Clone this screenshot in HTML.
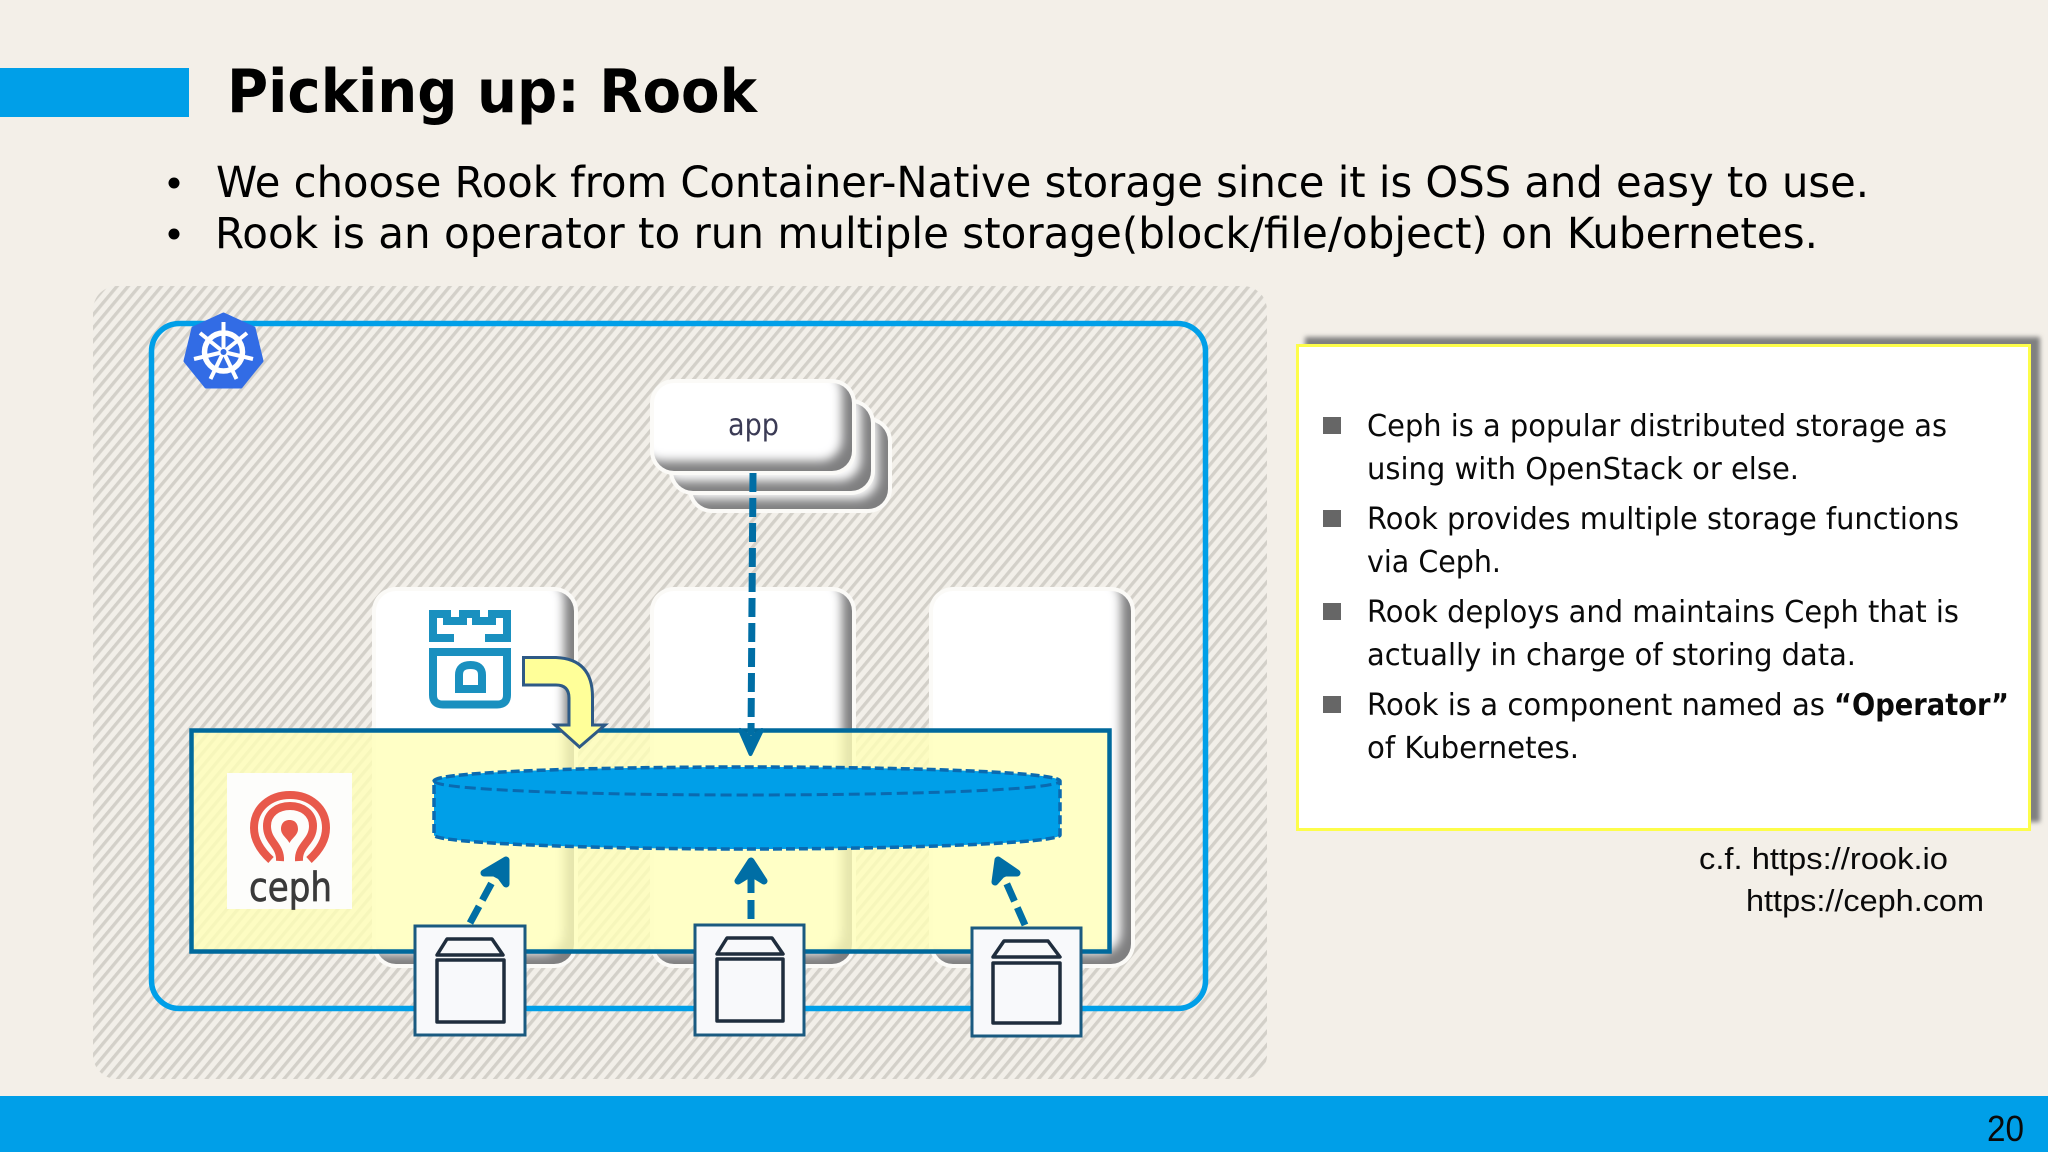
<!DOCTYPE html>
<html><head><meta charset="utf-8"><style>
html,body{margin:0;padding:0;width:2048px;height:1152px;overflow:hidden;background:#f3efe8}
svg{position:absolute;left:0;top:0}
.b{position:absolute;background:#fff;border-radius:20px;box-shadow:0 0 0 4px #fbfaf7,inset -12px -12px 10px -2px #7f7f80}
</style></head><body>
<svg width="2048" height="1152" viewBox="0 0 2048 1152" font-family="'DejaVu Sans',sans-serif">
<defs>
<pattern id="h" width="8.5" height="8.5" patternUnits="userSpaceOnUse" patternTransform="rotate(40)"><rect width="8.5" height="8.5" fill="#f2efe9"/><rect width="3.3" height="8.5" fill="#d3d0c9"/></pattern>
<filter id="bl" x="-5%" y="-5%" width="110%" height="110%"><feGaussianBlur stdDeviation="2.5"/></filter>
</defs>
<rect x="0" y="68" width="189" height="49" fill="#009fe8"/>
<text x="227" y="112" font-size="60" font-weight="bold" textLength="530" lengthAdjust="spacingAndGlyphs">Picking up: Rook</text>
<circle cx="174" cy="183" r="5.5"/><circle cx="174" cy="234" r="5.5"/>
<text x="216" y="197" font-size="43" textLength="1653" lengthAdjust="spacingAndGlyphs">We choose Rook from Container-Native storage since it is OSS and easy to use.</text>
<text x="215" y="248" font-size="43" textLength="1603" lengthAdjust="spacingAndGlyphs">Rook is an operator to run multiple storage(block/file/object) on Kubernetes.</text>
<rect x="93" y="286" width="1174" height="793" rx="24" fill="url(#h)"/>
<rect x="151.5" y="323.5" width="1054" height="685" rx="28" fill="none" stroke="#009fe8" stroke-width="5.5"/>
<rect x="1305" y="337" width="735" height="485" fill="#808080" filter="url(#bl)"/>
<rect x="1297.5" y="345.5" width="732" height="484" fill="#fff" stroke="#fdfd4a" stroke-width="3"/>
<g fill="#666"><rect x="1323" y="417" width="18" height="17"/><rect x="1323" y="510" width="18" height="17"/><rect x="1323" y="603" width="18" height="17"/><rect x="1323" y="696" width="18" height="17"/></g>
<g font-size="30" fill="#0a0a0a">
<text x="1367" y="436" textLength="580" lengthAdjust="spacingAndGlyphs">Ceph is a popular distributed storage as</text>
<text x="1367" y="479" textLength="432" lengthAdjust="spacingAndGlyphs">using with OpenStack or else.</text>
<text x="1367" y="529" textLength="592" lengthAdjust="spacingAndGlyphs">Rook provides multiple storage functions</text>
<text x="1367" y="572" textLength="134" lengthAdjust="spacingAndGlyphs">via Ceph.</text>
<text x="1367" y="622" textLength="592" lengthAdjust="spacingAndGlyphs">Rook deploys and maintains Ceph that is</text>
<text x="1367" y="665" textLength="489" lengthAdjust="spacingAndGlyphs">actually in charge of storing data.</text>
<text x="1367" y="715" textLength="458" lengthAdjust="spacingAndGlyphs">Rook is a component named as</text>
<text x="1834" y="715" font-weight="bold" textLength="175" lengthAdjust="spacingAndGlyphs">“Operator”</text>
<text x="1367" y="758" textLength="212" lengthAdjust="spacingAndGlyphs">of Kubernetes.</text>
</g>
<g font-family="'Liberation Sans',sans-serif" font-size="31" fill="#0a0a0a">
<text x="1699" y="869" textLength="249" lengthAdjust="spacingAndGlyphs">c.f. https://rook.io</text>
<text x="1746" y="911" textLength="238" lengthAdjust="spacingAndGlyphs">https://ceph.com</text>
</g>
<rect x="0" y="1096" width="2048" height="56" fill="#009fe8"/>
<text x="1987" y="1141" font-family="'Liberation Sans',sans-serif" font-size="36" fill="#0a0a0a" textLength="37" lengthAdjust="spacingAndGlyphs">20</text>
</svg>

<div class="b" style="left:692px;top:421px;width:196px;height:88px"></div>
<div class="b" style="left:673px;top:403px;width:198px;height:88px"></div>
<div class="b" style="left:654px;top:383px;width:198px;height:88px"></div>
<div class="b" style="left:376px;top:591px;width:198px;height:373px"></div>
<div class="b" style="left:654px;top:591px;width:198px;height:373px"></div>
<div class="b" style="left:933px;top:591px;width:198px;height:373px"></div>

<svg width="2048" height="1152" viewBox="0 0 2048 1152" font-family="'DejaVu Sans',sans-serif">
<text x="728" y="435" font-size="30" fill="#3b3b55" textLength="51" lengthAdjust="spacingAndGlyphs">app</text>
<!-- kubernetes -->
<polygon points="223.5,314 254,328 262,361 241,387 206,387 185,361 193,328" fill="#326ce5" stroke="#326ce5" stroke-width="3" stroke-linejoin="round"/>
<g stroke="#fff" fill="none">
<circle cx="223.5" cy="352" r="19" stroke-width="5.5"/>
<g stroke-width="4">
<line x1="223.5" y1="352" x2="223.5" y2="322"/>
<line x1="223.5" y1="352" x2="247" y2="333"/>
<line x1="223.5" y1="352" x2="253" y2="359"/>
<line x1="223.5" y1="352" x2="236.5" y2="379"/>
<line x1="223.5" y1="352" x2="210.5" y2="379"/>
<line x1="223.5" y1="352" x2="194" y2="359"/>
<line x1="223.5" y1="352" x2="200" y2="333"/>
</g></g>
<circle cx="223.5" cy="352" r="3" fill="#326ce5"/>
<!-- rook -->
<g fill="none" stroke="#1a90bf" stroke-width="8">
<path d="M454,638H433V614H447V621H463V614H476V621H492V614H507V638H485"/>
<path d="M433,652H507V695Q507,704.5 497,704.5H443Q433,704.5 433,695Z"/>
<path d="M459,689V675Q459,665 470.5,665Q482,665 482,675V689Z"/>
</g>
<!-- yellow region -->
<rect x="191.5" y="730.5" width="918" height="221" fill="#ffffb8" fill-opacity=".8" stroke="#00699c" stroke-width="4.5"/>
<!-- bent arrow -->
<path d="M523.5,657.5H556Q592.5,659 592.5,697V725H605L579.5,747L555,725H569V698Q569,685 556,685H523.5Z" fill="#ffff99" stroke="#2e5a86" stroke-width="3" stroke-linejoin="miter"/>
<!-- ceph -->
<rect x="227" y="773" width="125" height="136" fill="#fdfdfb"/>
<g fill="none" stroke="#e8594b">
<path d="M271,860C259,849 254,838 254,828C254,808 270,795 290,795C310,795 326,808 326,828C326,838 321,849 309,860" stroke-width="8"/>
<path d="M280,861C281,845 267,842 267,826C267,813 278,806 290,806C302,806 313,813 313,826C313,842 298,845 299,861" stroke-width="8"/>
<path d="M289.5,820C296,820 298,825 298,829C298,835 292,838 289.5,843C287,838 281,835 281,829C281,825 283,820 289.5,820Z" fill="#e8594b" stroke="none"/>
</g>
<text x="249" y="901" font-family="'DejaVu Sans',sans-serif" font-size="40" fill="#3a3a3a" stroke="#3a3a3a" stroke-width=".7" textLength="83" lengthAdjust="spacingAndGlyphs">ceph</text>
<!-- cylinder -->
<path d="M434,781C434,772 590,767 747,767C904,767 1060,772 1060,781V835C1060,843 904,849 747,849C590,849 434,843 434,835Z" fill="#009fe8" stroke="#0a6ab0" stroke-width="3.5" stroke-dasharray="9 4"/>
<path d="M434,781C434,790 590,795 747,795C904,795 1060,790 1060,781" fill="none" stroke="#0a6ab0" stroke-width="3" stroke-dasharray="11 5"/>
<!-- connectors -->
<g fill="none" stroke="#006ea5" stroke-width="7">
<path d="M753,473L751,735" stroke-dasharray="19 6"/>
<path d="M470,923L503,862" stroke-dasharray="19 7"/>
<path d="M751,919V864" stroke-dasharray="19 7"/>
<path d="M1025,925L998,864" stroke-dasharray="19 7"/>
<g stroke-linecap="round" stroke-linejoin="round" fill="#006ea5">
<path d="M484,873L506,860L506,884L498,873Z"/>
<path d="M738,881L751,861L764,881L751,873Z"/>
<path d="M995,882L998,860L1017,873L1003,873Z"/>
</g>
</g>
<path d="M740,730L750.5,754L762,730L751,738Z" fill="#006ea5" stroke="#006ea5" stroke-width="4" stroke-linejoin="round"/>
<!-- storage boxes -->
<g fill="#f8f9fb" stroke="#1a5a80" stroke-width="3">
<rect x="415" y="926" width="110" height="109"/>
<rect x="695" y="925" width="109" height="110"/>
<rect x="972" y="928" width="109" height="108"/>
</g>
<g fill="none" stroke="#1f2d3d" stroke-width="3.5" stroke-linejoin="round">
<path d="M437,955L447,939H492L503,955Z"/><rect x="437" y="960" width="67" height="62"/>
<path d="M717,954L727,938H772L783,954Z"/><rect x="717" y="959" width="66" height="62"/>
<path d="M993,957L1004,941H1048L1060,957Z"/><rect x="993" y="963" width="67" height="60"/>
</g>
</svg>
</body></html>
